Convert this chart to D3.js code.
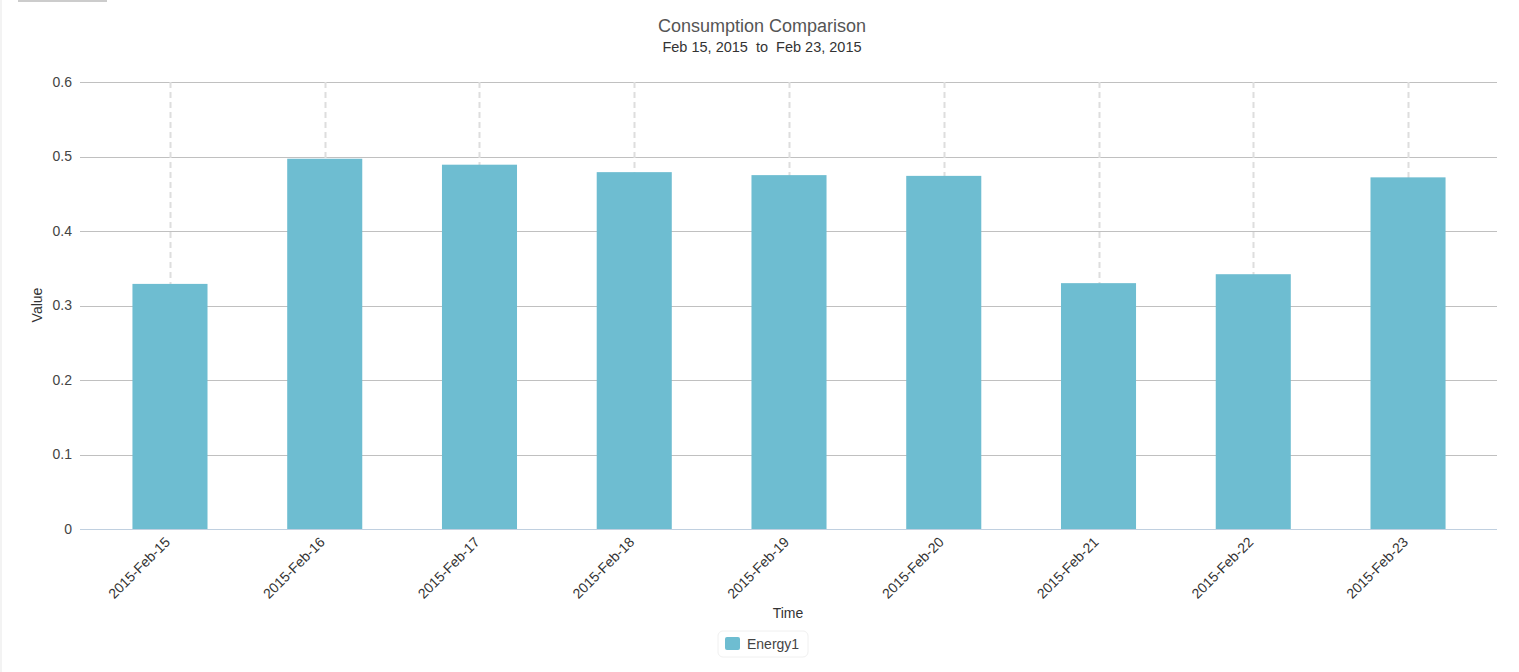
<!DOCTYPE html>
<html>
<head>
<meta charset="utf-8">
<script src="https://cdn.jsdelivr.net/npm/d3@7"></script>
<style>
  html, body { margin: 0; padding: 0; background: #fff; }
  body { font-family: "Liberation Sans", Arial, sans-serif; }
  #frame { position: absolute; left: 0; top: 0; width: 1519px; height: 672px; border-left: 2px solid #f3f3f3; box-sizing: border-box; }
  #tab { position: absolute; left: 18px; top: 0; width: 89px; height: 2px; background: #ccc; }
</style>
</head>
<body>
<div id="frame"></div>
<div id="tab"></div>
<div id="chart" style="position:absolute;left:0;top:0"></div>
<script>
// data
var days = ["2015-Feb-15", "2015-Feb-16", "2015-Feb-17", "2015-Feb-18", "2015-Feb-19",
            "2015-Feb-20", "2015-Feb-21", "2015-Feb-22", "2015-Feb-23"];
var energy1 = [0.329, 0.497, 0.489, 0.479, 0.475, 0.474, 0.330, 0.342, 0.472];
var yTicks = [0, 0.1, 0.2, 0.3, 0.4, 0.5, 0.6];

var width = 1519, height = 672;
var margin = {top: 82, right: 22, bottom: 143, left: 80};
var barColor = "#6ebdd1";

var svg = d3.select("#chart")
  .append("svg")
    .attr("width", width)
    .attr("height", height)
    .style("font-family", "'Liberation Sans', Arial, sans-serif");

// bands sit a little inside the grid
var x = d3.scaleBand()
  .domain(days)
  .range([margin.left + 12.6, width - margin.right - 11.6])
  .paddingInner(0.515)
  .paddingOuter(0.2575);

var y = d3.scaleLinear()
  .domain([0, 0.6])
  .range([height - margin.bottom, margin.top]);

// title
svg.append("text")
  .attr("x", 762).attr("y", 32)
  .attr("text-anchor", "middle")
  .style("font-size", "18px")
  .style("fill", "#555")
  .text("Consumption Comparison");

svg.append("text")
  .attr("x", 762).attr("y", 52)
  .attr("text-anchor", "middle")
  .style("font-size", "14.5px")
  .style("fill", "#333")
  .style("white-space", "pre")
  .text("Feb 15, 2015  to  Feb 23, 2015");

// horizontal grid
svg.append("g")
  .selectAll("line")
  .data(yTicks.slice(1))
  .enter()
  .append("line")
    .attr("x1", margin.left)
    .attr("x2", width - margin.right)
    .attr("y1", function(d) { return Math.round(y(d)) + 0.5; })
    .attr("y2", function(d) { return Math.round(y(d)) + 0.5; })
    .attr("stroke", "#c0c0c0")
    .attr("stroke-width", 1);

// dashed vertical lines at category centres (behind the bars)
svg.append("g")
  .selectAll("line")
  .data(days)
  .enter()
  .append("line")
    .attr("x1", function(d) { return Math.round(x(d) + x.bandwidth() / 2) + 0.5; })
    .attr("x2", function(d) { return Math.round(x(d) + x.bandwidth() / 2) + 0.5; })
    .attr("y1", y(0.6))
    .attr("y2", y(0))
    .attr("stroke", "#dedede")
    .attr("stroke-width", 2)
    .attr("stroke-dasharray", "6,4");

// bars
svg.append("g")
  .selectAll("rect")
  .data(energy1)
  .enter()
  .append("rect")
    .attr("x", function(d, i) { return x(days[i]); })
    .attr("y", function(d) { return y(d); })
    .attr("width", x.bandwidth())
    .attr("height", function(d) { return y(0) - y(d); })
    .style("fill", barColor);

// x axis line
svg.append("line")
  .attr("x1", margin.left)
  .attr("x2", width - margin.right)
  .attr("y1", Math.round(y(0)) + 0.5)
  .attr("y2", Math.round(y(0)) + 0.5)
  .attr("stroke", "#c0d0e0");

// y tick labels
var yAxis = svg.append("g")
  .attr("transform", "translate(" + (margin.left - 8) + ",0)")
  .call(d3.axisLeft(y).tickValues(yTicks).tickSize(0).tickFormat(d3.format("")));
yAxis.select(".domain").remove();
yAxis.selectAll("text")
  .attr("x", 0)
  .attr("dy", "0.32em")
  .style("font-size", "14px")
  .style("font-family", "'Liberation Sans', Arial, sans-serif")
  .style("fill", "#444");

// x tick labels
var xAxis = svg.append("g")
  .attr("transform", "translate(0," + y(0) + ")")
  .call(d3.axisBottom(x).tickSize(0));
xAxis.select(".domain").remove();
xAxis.selectAll("text")
  .attr("text-anchor", "end")
  .attr("transform", "translate(-7,6) rotate(-45)")
  .attr("y", 0)
  .attr("dy", "0.8em")
  .style("font-size", "14px")
  .style("font-family", "'Liberation Sans', Arial, sans-serif")
  .style("fill", "#333");

// axis titles
svg.append("text")
  .attr("transform", "translate(42,305) rotate(-90)")
  .attr("text-anchor", "middle")
  .style("font-size", "14px")
  .style("fill", "#333")
  .text("Value");

svg.append("text")
  .attr("x", 788).attr("y", 618)
  .attr("text-anchor", "middle")
  .style("font-size", "14px")
  .style("fill", "#333")
  .text("Time");

// legend
var legend = svg.append("g").attr("transform", "translate(718,631)");
legend.append("rect")
  .attr("x", 0).attr("y", 0)
  .attr("width", 90).attr("height", 26)
  .attr("rx", 5)
  .style("fill", "none")
  .style("stroke", "#f0f0f0");
legend.append("rect")
  .attr("x", 7).attr("y", 6)
  .attr("width", 15).attr("height", 13)
  .attr("rx", 2)
  .style("fill", barColor);
legend.append("text")
  .attr("x", 29).attr("y", 18)
  .style("font-size", "14px")
  .style("fill", "#444")
  .text("Energy1");
</script>
</body>
</html>
